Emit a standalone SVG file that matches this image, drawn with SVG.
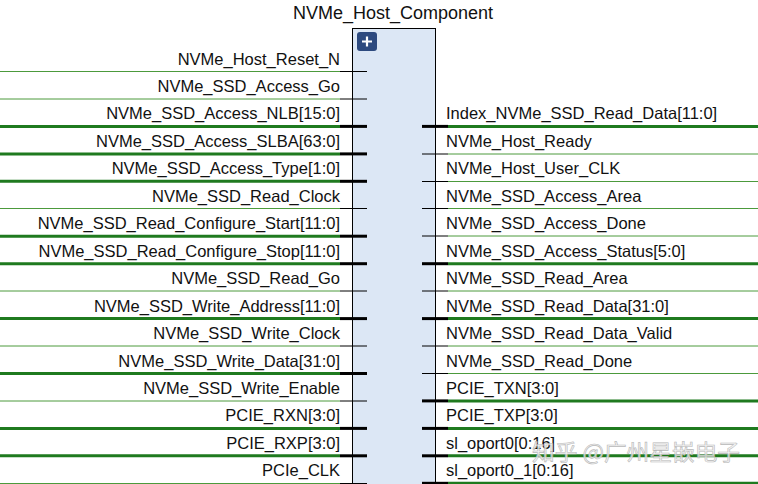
<svg xmlns="http://www.w3.org/2000/svg" width="758" height="484" viewBox="0 0 758 484">
<style>
.lbl{font-family:"Liberation Sans",Arial,sans-serif;font-size:16.5px;fill:#111}
.l{text-anchor:end}
.gs{stroke:#4c9a3c;stroke-width:1;fill:none}
.gb{stroke:#1f7a1f;stroke-width:3;fill:none}
.ks{stroke:#000;stroke-width:1;fill:none}
.kb{stroke:#000;stroke-width:3;fill:none}
.wm{font-family:"Noto Sans CJK SC","Liberation Sans",sans-serif;font-size:22px;fill:#f2f2f2;fill-opacity:0.8;stroke:#b8b8b8;stroke-width:0.6}
</style>
<rect width="758" height="484" fill="#fff"/>
<g id="NVMe_Host_Component">
<rect x="352.5" y="28.5" width="83" height="470" fill="#dce7f5" stroke="#000" stroke-width="1"/>
<text x="393" y="19" text-anchor="middle" style="font-family:'Liberation Sans',Arial,sans-serif;font-size:18px;fill:#111">NVMe_Host_Component</text>
<g id="expand_icon">
<rect x="357" y="32" width="20" height="19" rx="3" fill="#2d4a7f"/>
<path d="M367 36.5v10M362 41.5h10" stroke="#fff" stroke-width="2.2"/>
</g>
</g>
<g id="connectors">
<path class="gs" d="M0 71.5H340"/><path class="ks" d="M340 71.5H367"/>
<path class="gs" d="M0 99H340"/><path class="ks" d="M340 99H367"/>
<path class="gb" d="M0 126.4H340"/><path class="kb" d="M340 126.4H367"/>
<path class="gb" d="M0 153.9H340"/><path class="kb" d="M340 153.9H367"/>
<path class="gb" d="M0 181.3H340"/><path class="kb" d="M340 181.3H367"/>
<path class="gs" d="M0 208.5H340"/><path class="ks" d="M340 208.5H367"/>
<path class="gb" d="M0 236.2H340"/><path class="kb" d="M340 236.2H367"/>
<path class="gb" d="M0 263.7H340"/><path class="kb" d="M340 263.7H367"/>
<path class="gs" d="M0 291H340"/><path class="ks" d="M340 291H367"/>
<path class="gb" d="M0 318.6H340"/><path class="kb" d="M340 318.6H367"/>
<path class="gs" d="M0 346H340"/><path class="ks" d="M340 346H367"/>
<path class="gb" d="M0 373.5H340"/><path class="kb" d="M340 373.5H367"/>
<path class="gs" d="M0 401H340"/><path class="ks" d="M340 401H367"/>
<path class="gb" d="M0 428.4H340"/><path class="kb" d="M340 428.4H367"/>
<path class="gb" d="M0 455.8H340"/><path class="kb" d="M340 455.8H367"/>
<path class="gs" d="M0 483.5H340"/><path class="ks" d="M340 483.5H367"/>
<path class="kb" d="M422 126.4H448"/><path class="gb" d="M448 126.4H758"/>
<path class="ks" d="M422 154H448"/><path class="gs" d="M448 154H758"/>
<path class="ks" d="M422 181.5H448"/><path class="gs" d="M448 181.5H758"/>
<path class="ks" d="M422 208.5H448"/><path class="gs" d="M448 208.5H758"/>
<path class="ks" d="M422 236H448"/><path class="gs" d="M448 236H758"/>
<path class="kb" d="M422 263.7H448"/><path class="gb" d="M448 263.7H758"/>
<path class="ks" d="M422 291H448"/><path class="gs" d="M448 291H758"/>
<path class="kb" d="M422 318.6H448"/><path class="gb" d="M448 318.6H758"/>
<path class="ks" d="M422 346H448"/><path class="gs" d="M448 346H758"/>
<path class="ks" d="M422 373.5H448"/><path class="gs" d="M448 373.5H758"/>
<path class="kb" d="M422 400.9H448"/><path class="gb" d="M448 400.9H758"/>
<path class="kb" d="M422 428.4H448"/><path class="gb" d="M448 428.4H758"/>
<path class="kb" d="M422 455.8H448"/><path class="gb" d="M448 455.8H758"/>
<path class="kb" d="M422 483.3H448"/><path class="gb" d="M448 483.3H758"/>
</g>
<g id="pins_left">
<text class="lbl l" x="340" y="64.5">NVMe_Host_Reset_N</text>
<text class="lbl l" x="340" y="92">NVMe_SSD_Access_Go</text>
<text class="lbl l" x="340" y="119.4">NVMe_SSD_Access_NLB[15:0]</text>
<text class="lbl l" x="340" y="146.9">NVMe_SSD_Access_SLBA[63:0]</text>
<text class="lbl l" x="340" y="174.3">NVMe_SSD_Access_Type[1:0]</text>
<text class="lbl l" x="340" y="201.7">NVMe_SSD_Read_Clock</text>
<text class="lbl l" x="340" y="229.2">NVMe_SSD_Read_Configure_Start[11:0]</text>
<text class="lbl l" x="340" y="256.7">NVMe_SSD_Read_Configure_Stop[11:0]</text>
<text class="lbl l" x="340" y="284.1">NVMe_SSD_Read_Go</text>
<text class="lbl l" x="340" y="311.6">NVMe_SSD_Write_Address[11:0]</text>
<text class="lbl l" x="340" y="339">NVMe_SSD_Write_Clock</text>
<text class="lbl l" x="340" y="366.5">NVMe_SSD_Write_Data[31:0]</text>
<text class="lbl l" x="340" y="393.9">NVMe_SSD_Write_Enable</text>
<text class="lbl l" x="340" y="421.4">PCIE_RXN[3:0]</text>
<text class="lbl l" x="340" y="448.8">PCIE_RXP[3:0]</text>
<text class="lbl l" x="340" y="476.3">PCIe_CLK</text>
</g>
<g id="pins_right">
<text class="lbl" x="446" y="119.4">Index_NVMe_SSD_Read_Data[11:0]</text>
<text class="lbl" x="446" y="146.9">NVMe_Host_Ready</text>
<text class="lbl" x="446" y="174.3">NVMe_Host_User_CLK</text>
<text class="lbl" x="446" y="201.7">NVMe_SSD_Access_Area</text>
<text class="lbl" x="446" y="229.2">NVMe_SSD_Access_Done</text>
<text class="lbl" x="446" y="256.7">NVMe_SSD_Access_Status[5:0]</text>
<text class="lbl" x="446" y="284.1">NVMe_SSD_Read_Area</text>
<text class="lbl" x="446" y="311.6">NVMe_SSD_Read_Data[31:0]</text>
<text class="lbl" x="446" y="339">NVMe_SSD_Read_Data_Valid</text>
<text class="lbl" x="446" y="366.5">NVMe_SSD_Read_Done</text>
<text class="lbl" x="446" y="393.9">PCIE_TXN[3:0]</text>
<text class="lbl" x="446" y="421.4">PCIE_TXP[3:0]</text>
<text class="lbl" x="446" y="448.8">sl_oport0[0:16]</text>
<text class="lbl" x="446" y="476.3">sl_oport0_1[0:16]</text>
</g>
<text class="wm" x="532" y="460" textLength="208" lengthAdjust="spacingAndGlyphs">知乎 @广州星嵌电子</text>
</svg>
